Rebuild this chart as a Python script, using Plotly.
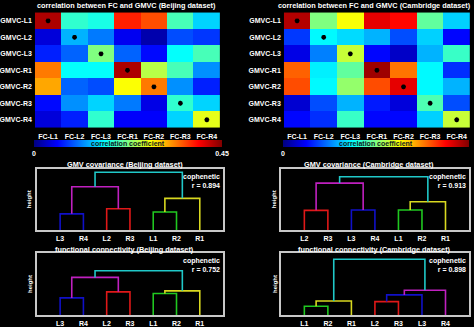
import plotly.graph_objects as go

W, H = 474, 327

# ---------------- data ----------------
rows = ["GMVC-L1", "GMVC-L2", "GMVC-L3", "GMVC-R1", "GMVC-R2", "GMVC-R3", "GMVC-R4"]
cols = ["FC-L1", "FC-L2", "FC-L3", "FC-R1", "FC-R2", "FC-R3", "FC-R4"]

z_beijing = [
    [0.43, 0.19, 0.18, 0.38, 0.36, 0.20, 0.15],
    [0.04, 0.135, 0.11, 0.05, 0.02, 0.09, 0.08],
    [0.07, 0.10, 0.225, 0.10, 0.06, 0.17, 0.20],
    [0.34, 0.17, 0.17, 0.43, 0.25, 0.20, 0.12],
    [0.32, 0.10, 0.09, 0.28, 0.34, 0.12, 0.07],
    [0.06, 0.12, 0.15, 0.11, 0.045, 0.19, 0.15],
    [0.04, 0.07, 0.19, 0.055, 0.055, 0.15, 0.27],
]
z_cambridge = [
    [0.475, 0.25, 0.31, 0.45, 0.435, 0.235, 0.165],
    [0.09, 0.185, 0.17, 0.15, 0.10, 0.165, 0.065],
    [0.05, 0.125, 0.285, 0.065, 0.035, 0.15, 0.215],
    [0.39, 0.18, 0.235, 0.485, 0.38, 0.185, 0.085],
    [0.40, 0.185, 0.26, 0.40, 0.45, 0.185, 0.15],
    [0.04, 0.10, 0.15, 0.075, 0.045, 0.225, 0.10],
    [0.065, 0.085, 0.215, 0.065, 0.065, 0.165, 0.285],
]
zmax_beijing = 0.45
zmax_cambridge = 0.50

# dendrograms: leaf order, merges (child a, child b, height, colour)
gmv_bj_leaves = ["L3", "R4", "L2", "R3", "L1", "R2", "R1"]
gmv_bj_merges = [("L3", "R4", 0.27, "blue"), ("L2", "R3", 0.355, "red"),
                 ("L1", "R2", 0.30, "green"), ("m2", "R1", 0.525, "yellow"),
                 ("m0", "m1", 0.715, "magenta"), ("m4", "m3", 0.955, "cyan")]
gmv_bj_r = "0.894"

gmv_cb_leaves = ["L2", "R3", "L3", "R4", "L1", "R2", "R1"]
gmv_cb_merges = [("L2", "R3", 0.328, "red"), ("L3", "R4", 0.333, "blue"),
                 ("L1", "R2", 0.333, "green"), ("m2", "R1", 0.47, "yellow"),
                 ("m0", "m1", 0.776, "magenta"), ("m4", "m3", 0.88, "cyan")]
gmv_cb_r = "0.913"

fc_bj_leaves = ["L3", "R4", "L2", "R3", "L1", "R2", "R1"]
fc_bj_merges = [("L3", "R4", 0.277, "blue"), ("L2", "R3", 0.375, "red"),
                ("L1", "R2", 0.348, "green"), ("m2", "R1", 0.391, "yellow"),
                ("m0", "m1", 0.609, "magenta"), ("m4", "m3", 0.717, "cyan")]
fc_bj_r = "0.752"

fc_cb_leaves = ["L1", "R2", "R1", "L2", "R3", "L3", "R4"]
fc_cb_merges = [("L1", "R2", 0.141, "green"), ("m0", "R1", 0.228, "yellow"),
                ("L2", "R3", 0.217, "red"), ("m2", "L3", 0.326, "blue"),
                ("m3", "R4", 0.402, "magenta"), ("m1", "m4", 0.902, "cyan")]
fc_cb_r = "0.898"

# ---------------- styling ----------------
FONT = "Liberation Sans, Arial, sans-serif"
link_colors = {"blue": "#1010c8", "red": "#e01818", "green": "#20c820",
               "yellow": "#d8d820", "magenta": "#c020c0", "cyan": "#20c8c8"}
jet = [[0.0, "rgb(0,0,128)"], [0.125, "rgb(0,0,255)"], [0.375, "rgb(0,255,255)"],
       [0.625, "rgb(255,255,0)"], [0.875, "rgb(255,0,0)"], [1.0, "rgb(128,0,0)"]]


def px_x(a, b):
    return [a / W, b / W]


def px_y(top, bottom):
    return [1 - bottom / H, 1 - top / H]


fig = go.Figure()


def add_heatmap(z, zmax, ax, cb_x0, cb_x1):
    xs = "x" if ax == 1 else f"x{ax}"
    ys = "y" if ax == 1 else f"y{ax}"
    fig.add_trace(go.Heatmap(
        z=z, x=cols, y=rows, zmin=0, zmax=zmax, colorscale=jet,
        xaxis=xs, yaxis=ys, hoverinfo="skip",
        colorbar=dict(orientation="h", x=(cb_x0 + cb_x1) / 2 / W, xanchor="center",
                      y=1 - 140.5 / H, yanchor="top", len=(cb_x1 - cb_x0) / W,
                      lenmode="fraction", thickness=7, thicknessmode="pixels",
                      outlinewidth=0, ticks="", tickvals=[0, zmax],
                      ticktext=["0", f"{zmax:.2f}"], ypad=0, xpad=0,
                      tickfont=dict(family=FONT, size=7, color="white", weight="bold"))))
    fig.add_trace(go.Scatter(
        x=cols, y=rows, mode="markers", xaxis=xs, yaxis=ys, hoverinfo="skip",
        marker=dict(symbol="asterisk", size=4, color="black",
                    line=dict(color="black", width=1.4)),
        showlegend=False))


def add_dendro(leaves, merges, ax):
    xs, ys = f"x{ax}", f"y{ax}"
    pos = {n: i + 1 for i, n in enumerate(leaves)}
    hgt = {n: 0.0 for n in leaves}
    for k, (a, b, h, c) in enumerate(merges):
        fig.add_trace(go.Scatter(
            x=[pos[a], pos[a], pos[b], pos[b]], y=[hgt[a], h, h, hgt[b]],
            mode="lines", line=dict(color=link_colors[c], width=1.6),
            xaxis=xs, yaxis=ys, hoverinfo="skip", showlegend=False))
        pos[f"m{k}"] = (pos[a] + pos[b]) / 2
        hgt[f"m{k}"] = h


add_heatmap(z_beijing, zmax_beijing, 1, 32, 221)
add_heatmap(z_cambridge, zmax_cambridge, 2, 282, 469)
add_dendro(gmv_bj_leaves, gmv_bj_merges, 3)
add_dendro(gmv_cb_leaves, gmv_cb_merges, 4)
add_dendro(fc_bj_leaves, fc_bj_merges, 5)
add_dendro(fc_cb_leaves, fc_cb_merges, 6)

tickfont = dict(family=FONT, size=7, color="white", weight="bold")
hm_common = dict(showgrid=False, zeroline=False, ticks="", showline=False,
                 tickfont=tickfont)

layout = dict(
    width=W, height=H, margin=dict(l=0, r=0, t=0, b=0),
    paper_bgcolor="black", plot_bgcolor="black", showlegend=False,
    xaxis=dict(domain=px_x(33, 219), anchor="y", ticklabelstandoff=2, **hm_common),
    yaxis=dict(domain=px_y(12, 129), anchor="x", autorange="reversed",
               ticklabelstandoff=2, **hm_common),
    xaxis2=dict(domain=px_x(283, 470), anchor="y2", ticklabelstandoff=2, **hm_common),
    yaxis2=dict(domain=px_y(12, 129), anchor="x2", autorange="reversed",
                ticklabelstandoff=2, **hm_common),
)

dendro_boxes = {
    3: (px_x(35, 222), px_y(170, 231), gmv_bj_leaves),
    4: (px_x(280, 469), px_y(170, 231), gmv_cb_leaves),
    5: (px_x(35, 222), px_y(254, 316), fc_bj_leaves),
    6: (px_x(280, 469), px_y(254, 316), fc_cb_leaves),
}
for ax, (xd, yd, leaves) in dendro_boxes.items():
    layout[f"xaxis{ax}"] = dict(
        domain=xd, anchor=f"y{ax}", range=[0, 8], showgrid=False, zeroline=False,
        showline=True, mirror=True, linecolor="#c8c8c8", linewidth=1.5, ticks="",
        tickvals=list(range(1, 8)), ticktext=leaves, tickfont=tickfont,
        ticklabelstandoff=1)
    layout[f"yaxis{ax}"] = dict(
        domain=yd, anchor=f"x{ax}", range=[0, 1], showgrid=False, zeroline=False,
        showline=True, mirror=True, linecolor="#c8c8c8", linewidth=1.5,
        showticklabels=False, ticks="")

fig.update_layout(**layout)

annots = []


def ann(text, x, y, size=7, color="white", xanchor="center", yanchor="middle",
        align="center", angle=0):
    annots.append(dict(text=text, x=x / W, y=1 - y / H, xref="paper", yref="paper",
                       showarrow=False, xanchor=xanchor, yanchor=yanchor, align=align,
                       textangle=angle,
                       font=dict(family=FONT, size=size, color=color, weight="bold")))


ann("correlation between FC and GMVC (Beijing dataset)", 125, 6, size=7.3)
ann("correlation between FC and GMVC (Cambridge dataset)", 374, 6, size=7.3)
ann("correlation coefficient", 126.5, 144, size=7, color="#102020")
ann("correlation coefficient", 375.5, 144, size=7, color="#102020")
ann("GMV covariance (Beijing dataset)", 123.5, 165, size=7.3)
ann("GMV covariance (Cambridge dataset)", 368.5, 165, size=7.3)
ann("functional connectivity (Beijing dataset)", 123, 250, size=7.3)
ann("functional connectivity (Cambridge dataset)", 374, 250, size=7.3)
for xh, yh in [(28, 200), (274, 200), (28, 285), (274, 285)]:
    ann("height", xh, yh, size=6, angle=-90)
ann(f"cophenetic<br>r = {gmv_bj_r}", 220.5, 171.5, xanchor="right", yanchor="top", align="right")
ann(f"cophenetic<br>r = {gmv_cb_r}", 467.5, 171.5, xanchor="right", yanchor="top", align="right")
ann(f"cophenetic<br>r = {fc_bj_r}", 220.5, 255.5, xanchor="right", yanchor="top", align="right")
ann(f"cophenetic<br>r = {fc_cb_r}", 467.5, 255.5, xanchor="right", yanchor="top", align="right")

fig.update_layout(annotations=annots)
fig.write_html("out.html")
